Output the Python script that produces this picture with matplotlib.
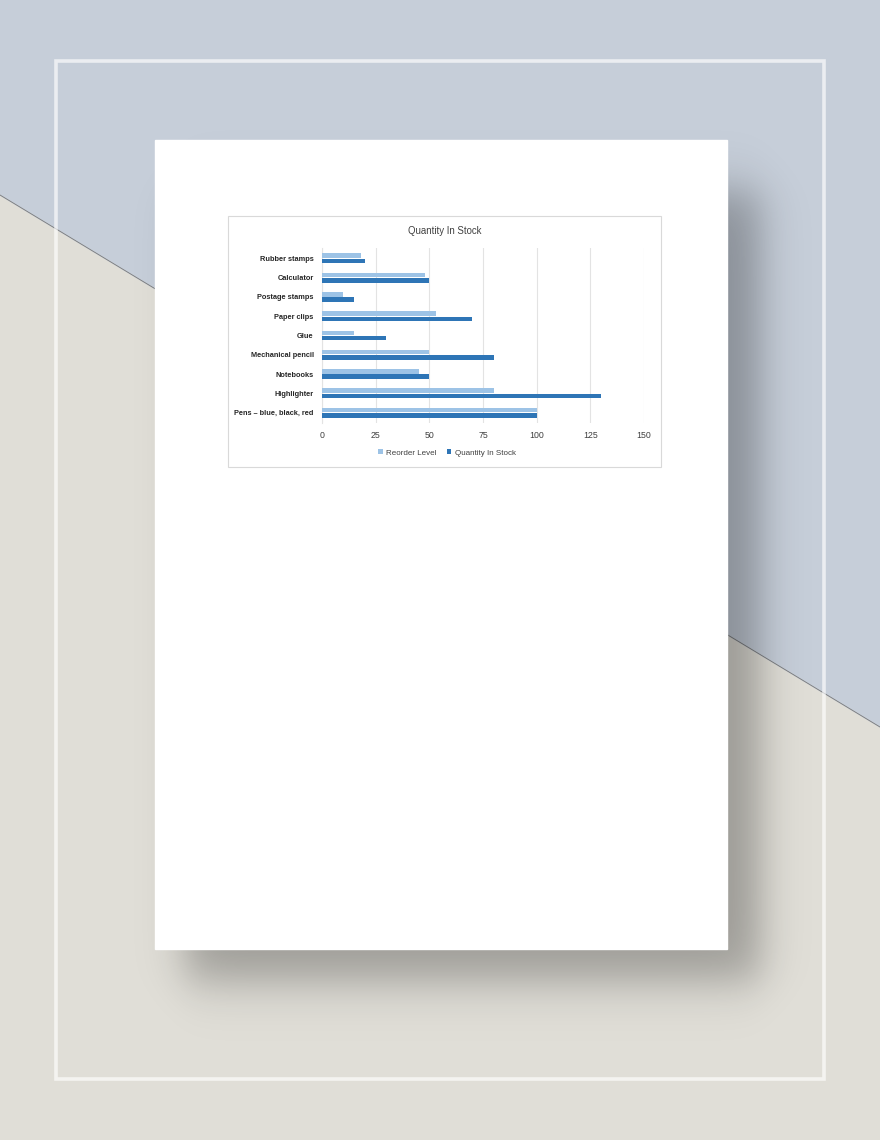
import numpy as np
import matplotlib
matplotlib.use('Agg')
from matplotlib import pyplot as plt
from matplotlib.patches import Polygon, Rectangle

plt.rcParams['font.family'] = ['Liberation Sans', 'DejaVu Sans']

# data (bottom to top, as Excel draws it)
items = ['Pens – blue, black, red', 'Highlighter', 'Notebooks', 'Mechanical pencil',
         'Glue', 'Paper clips', 'Postage stamps', 'Calculator', 'Rubber stamps']
reorder_level = [100, 80, 45, 50, 15, 53, 10, 48, 18]
qty_in_stock = [100, 130, 50, 80, 30, 70, 15, 50, 20]
x_ticks = [0, 25, 50, 75, 100, 125, 150]

light_blue = '#9dc3e6'
dark_blue = '#2e75b6'

W, H = 880, 1140
fig = plt.figure(figsize=(W / 100, H / 100), dpi=100)

# ---- mockup background (pixel coordinates) ----
bg = fig.add_axes([0, 0, 1, 1])
bg.set_xlim(0, W)
bg.set_ylim(H, 0)
bg.axis('off')
bg.add_patch(Rectangle((0, 0), W, H, color='#e0ded7', zorder=0))
bg.add_patch(Polygon([(0, 0), (W, 0), (W, 727), (0, 195)], closed=True,
                     color='#c6ced9', zorder=1))
bg.plot([0, W], [195, 727], color='#7a7a7a', lw=0.6, zorder=2)

# soft shadow of the page
xs = np.arange(W)
ys = np.arange(H)
sig = lambda v: 1 / (1 + np.exp(-v))
sx = sig((xs - 185) / 12) * sig((760 - xs) / 12)
sy = sig((ys - 190) / 14) * sig((980 - ys) / 14)
alpha = 0.3 * np.outer(sy, sx)
shadow = np.zeros((H, W, 4))
shadow[..., 3] = alpha
bg.imshow(shadow, extent=(0, W, H, 0), zorder=3, interpolation='bilinear')

# page
bg.add_patch(Rectangle((155, 140), 572, 809, color='white', zorder=4))
# white frame
bg.add_patch(Rectangle((56, 61), 768, 1018, fill=False, edgecolor='white',
                       alpha=0.65, lw=2.6, zorder=5))
# chart box
bg.add_patch(Rectangle((228, 216), 433, 251, facecolor='white',
                       edgecolor='#d9d9d9', lw=0.8, zorder=6))
bg.text(445, 231, 'Quantity In Stock', ha='center', va='center',
        fontsize=6.9, color='#404040', zorder=7)

# ---- chart ----
ax = fig.add_axes([322 / W, 1 - 423 / H, 322 / W, 175 / H])
ax.set_facecolor('none')
y = np.arange(len(items))
off = 0.137
h = 0.24
ax.barh(y + off, reorder_level, height=h, color=light_blue, label='Reorder Level', zorder=3)
ax.barh(y - off, qty_in_stock, height=h, color=dark_blue, label='Quantity In Stock', zorder=3)

ax.set_xlim(0, 150)
ax.set_ylim(-0.54, len(items) - 0.46)
ax.set_xticks(x_ticks)
ax.set_xticklabels([str(t) for t in x_ticks], fontsize=6.3, color='#404040')
ax.set_yticks(y)
ax.set_yticklabels(items, fontsize=5.3, fontweight='bold', color='#262626')
ax.tick_params(axis='both', length=0)
ax.tick_params(axis='y', pad=6)
ax.tick_params(axis='x', pad=6)
ax.grid(True, axis='x', color='#e3e3e3', lw=0.8, zorder=0)
for s in ['top', 'right', 'bottom']:
    ax.spines[s].set_visible(False)
ax.spines['left'].set_color('#e3e3e3')
ax.spines['left'].set_linewidth(0.8)

ax.legend(loc='center', bbox_to_anchor=(447 / W, 1 - 453 / H), bbox_transform=fig.transFigure,
          ncol=2, frameon=False, fontsize=5.8, handlelength=0.6, handleheight=0.6,
          handletextpad=0.4, columnspacing=1.2, labelcolor='#404040')

fig.savefig('out.png', dpi=100)
